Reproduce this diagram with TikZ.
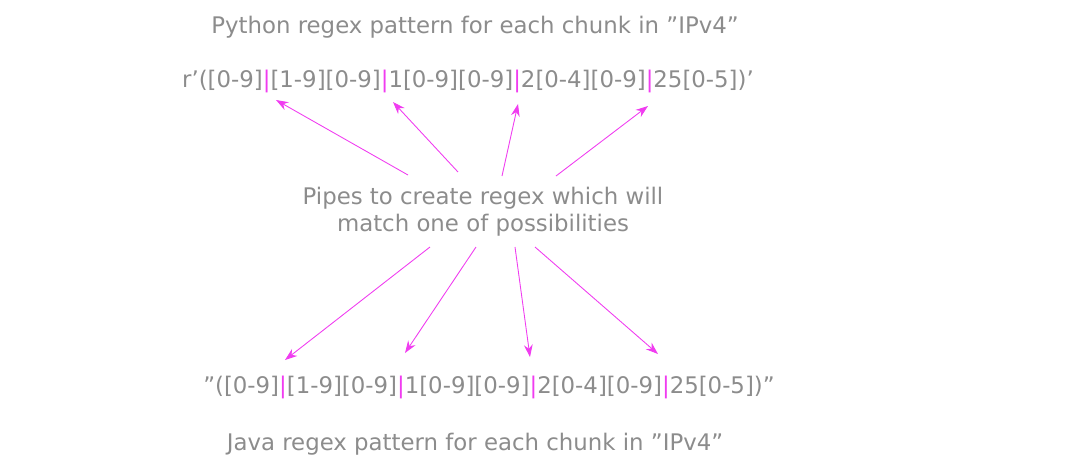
\documentclass[tikz,border=0pt]{standalone}
\usepackage{fontspec}
\setmainfont{DejaVu Sans}
\usetikzlibrary{arrows.meta}
\definecolor{txtgray}{RGB}{140,140,140}
\definecolor{pipe}{RGB}{240,60,240}
\newcommand{\pp}{\textcolor{pipe}{|}}
\newcommand{\dq}{\symbol{34}}
\newcommand{\sq}{\symbol{39}}
\begin{document}
\begin{tikzpicture}[x=0.02cm,y=-0.02cm,
  lbl/.style={text=txtgray,font=\fontsize{13}{15.5}\selectfont,inner sep=0pt},
  arr/.style={-{Stealth[length=7pt,width=5pt]},pipe,line width=0.5pt}]

  \useasboundingbox (0,0) rectangle (1080,474);

  % titles and patterns
  \node[lbl] (pytitle) at (475,27) {Python regex pattern for each chunk in \dq IPv4\dq};
  \node[lbl] (pyregex) at (468,81) {r\sq([0-9]\pp[1-9][0-9]\pp1[0-9][0-9]\pp2[0-4][0-9]\pp25[0-5])\sq};
  \node[lbl,align=center] (pipes) at (483,212) {Pipes to create regex which will\\match one of possibilities};
  \node[lbl] (jregex) at (489,387) {\dq([0-9]\pp[1-9][0-9]\pp1[0-9][0-9]\pp2[0-4][0-9]\pp25[0-5])\dq};
  \node[lbl] (jtitle) at (475,444) {Java regex pattern for each chunk in \dq IPv4\dq};

  % arrow ends
  \coordinate (p1) at (276,100);
  \coordinate (p2) at (393,102);
  \coordinate (p3) at (518,104);
  \coordinate (p4) at (648,106);
  \coordinate (j1) at (285,360);
  \coordinate (j2) at (405,353);
  \coordinate (j3) at (530,357);
  \coordinate (j4) at (658,354);

  \draw[arr] (pipes.center) ++(-75,-37) -- (p1);
  \draw[arr] (pipes.center) ++(-25,-40) -- (p2);
  \draw[arr] (pipes.center) ++(19,-36) -- (p3);
  \draw[arr] (pipes.center) ++(73,-36) -- (p4);
  \draw[arr] (pipes.center) ++(-53,35) -- (j1);
  \draw[arr] (pipes.center) ++(-7,35) -- (j2);
  \draw[arr] (pipes.center) ++(32,35) -- (j3);
  \draw[arr] (pipes.center) ++(52,35) -- (j4);
\end{tikzpicture}
\end{document}
